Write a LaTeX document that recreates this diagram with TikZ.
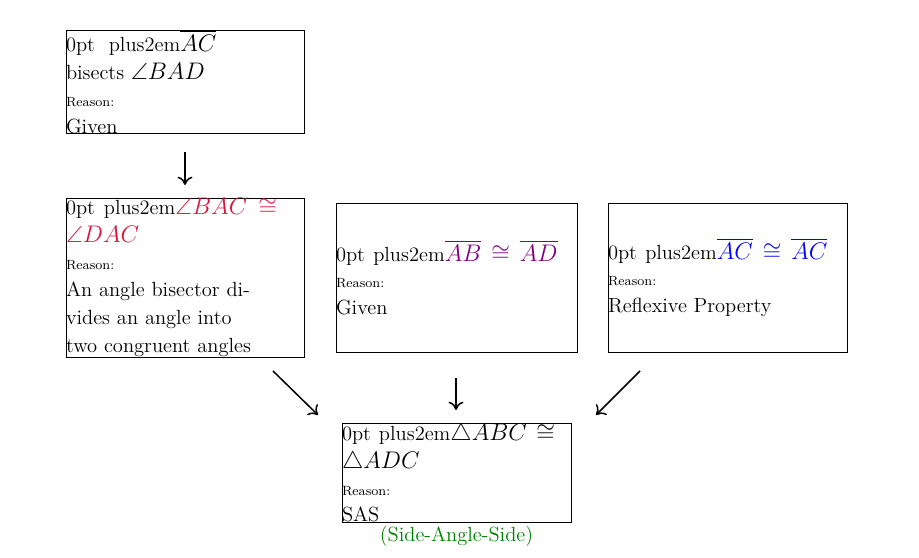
\documentclass[tikz,border=0pt]{standalone}
\usepackage{amssymb}
\usetikzlibrary{arrows.meta}
\definecolor{crim}{RGB}{220,20,60}
\definecolor{purp}{RGB}{128,0,128}
\definecolor{grn}{RGB}{0,128,0}
\tikzset{
  stmt/.style = {draw, inner sep=0pt, align=center,
                 font=\fontsize{12.3}{17}\selectfont\hyphenpenalty=10000,
                 minimum width=#1*0.6pt, text width=#1*0.6pt},
  implies/.style = {-{To[length=5pt,width=9pt]}, line width=0.9pt},
}
\newcommand{\rsn}{\\[-1pt]{\footnotesize Reason:}\\[-1pt]}
\newcommand{\hd}[1]{{\fontsize{14}{17}\selectfont$#1$}}
\begin{document}
\begin{tikzpicture}[x=0.6pt, y=-0.6pt]
  \useasboundingbox (0,0) rectangle (919,558);
  % top statement
  \node[stmt=238, minimum height=90*0.6pt] (given) at (185,82)
    {\hd{\overline{AC}} bisects \hd{\angle BAD}\rsn Given};
  % middle row
  \node[stmt=238, minimum height=149*0.6pt] (angle) at (185,277.5)
    {\textcolor{crim}{\hd{\angle BAC \cong \angle DAC}}\rsn An angle bisector divides an angle into two congruent angles};
  \node[stmt=241, minimum height=149*0.6pt] (side) at (456.5,277.5)
    {\textcolor{purp}{\hd{\overline{AB} \cong \overline{AD}}}\rsn Given};
  \node[stmt=239, minimum height=149*0.6pt] (refl) at (727.5,277.5)
    {\textcolor{blue}{\hd{\overline{AC} \cong \overline{AC}}}\rsn Reflexive Property};
  % conclusion
  \node[stmt=229, minimum height=90*0.6pt] (sas) at (456.5,473)
    {\hd{\triangle ABC \cong \triangle ADC}\rsn SAS};
  \node[font=\fontsize{12.3}{15}\selectfont, text=grn, anchor=north, inner sep=2pt] (sasname) at (sas.south) {(Side-Angle-Side)};
  % arrows
  \coordinate (a1) at (185,152); \coordinate (b1) at (185,185);
  \coordinate (a2) at (273,371); \coordinate (b2) at (318,415);
  \coordinate (a3) at (456,378); \coordinate (b3) at (456,410);
  \coordinate (a4) at (640,371); \coordinate (b4) at (596,415);
  \draw[implies] (a1) -- (b1);
  \draw[implies] (a2) -- (b2);
  \draw[implies] (a3) -- (b3);
  \draw[implies] (a4) -- (b4);
\end{tikzpicture}
\end{document}
